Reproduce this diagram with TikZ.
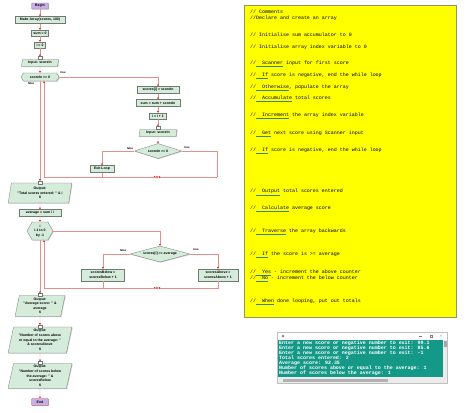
\documentclass[tikz,border=0pt]{standalone}
\usepackage{fontspec}
\usetikzlibrary{arrows.meta,shapes.geometric,shapes.symbols,shadows}
\newfontfamily\fcfont{Liberation Sans}
\newfontfamily\cmtfont{Liberation Mono}
\definecolor{boxfill}{RGB}{214,236,218}
\definecolor{boxline}{RGB}{110,122,114}
\definecolor{linecol}{RGB}{232,140,140}
\definecolor{arrowcol}{RGB}{205,50,50}
\definecolor{termfill}{RGB}{200,176,230}
\definecolor{termline}{RGB}{140,100,170}
\definecolor{endline}{RGB}{200,60,80}
\definecolor{yel}{RGB}{255,255,0}
\definecolor{yelline}{RGB}{150,150,90}
\definecolor{ulcol}{RGB}{60,130,140}
\definecolor{teal2}{RGB}{20,152,136}
\newcommand\ulw[1]{{\color{ulcol}\underline{\textcolor{black}{#1}}}}
\tikzset{
 shd/.style={drop shadow={shadow xshift=0.7bp,shadow yshift=-0.7bp,fill=black!20,opacity=1}},
 ft/.style={font=\fcfont\bfseries\fontsize{3.5}{4.6}\selectfont},
 proc/.style={ft, draw=boxline, fill=boxfill, line width=0.3bp, inner sep=0pt, minimum height=7bp, align=center, shd},
 term/.style={proc, rounded corners=0.8bp, fill=termfill, draw=termline},
 io/.style={ft, trapezium, trapezium left angle=78, trapezium right angle=102, trapezium stretches=true, draw=boxline, fill=boxfill, line width=0.3bp, inner sep=0pt, align=center, shd},
 loopbox/.style={ft, signal, signal to=west and east, signal pointer angle=120, draw=boxline, fill=boxfill, line width=0.3bp, inner sep=0pt, align=center, shd},
 dec/.style={ft, diamond, aspect=3, draw=boxline, fill=boxfill, line width=0.3bp, inner sep=0pt, align=center, shd},
 conn/.style={draw=boxline, fill=white, line width=0.3bp, minimum width=4bp, minimum height=2.8bp, inner sep=0pt},
 flow/.style={draw=linecol, line width=0.45bp, -{Triangle[length=1.8bp,width=2bp,color=arrowcol]}},
 plain/.style={draw=linecol, line width=0.45bp},
 lbl/.style={font=\fcfont\bfseries\fontsize{2.8}{3}\selectfont, inner sep=0pt},
 junc/.style={circle, draw=arrowcol, line width=0.35bp, minimum size=2.2bp, inner sep=0pt},
 cmt/.style={font=\cmtfont\fontsize{5}{5}\selectfont, anchor=west, inner sep=0pt},
}
\begin{document}
\begin{tikzpicture}[x=1bp,y=-1bp]
\path[use as bounding box] (0,0) rectangle (474,412);
% ---------- left column ----------
\node[term, minimum width=17bp, minimum height=6bp] (begin) at (40,6) {Begin};
\node[proc, minimum width=50bp] (make) at (40,20) {Make Array(scores, 100)};
\node[proc, minimum width=17bp, minimum height=6bp] (sum0) at (40,33) {sum = 0};
\node[proc, minimum width=11bp, minimum height=6bp] (i0) at (40,45) {i = 0};
\node[io, minimum width=37bp, minimum height=7bp] (in1) at (40,63) {Input: scoreIn};
\node[conn] (k1) at (40,58) {};
\node[loopbox, minimum width=38bp, minimum height=8bp] (while) at (40,77) {scoreIn >= 0};
% loop body
\node[proc, minimum width=42bp] (si) at (158,90) {scores[i] = scoreIn};
\node[proc, minimum width=44bp] (su) at (158,103) {sum = sum + scoreIn};
\node[proc, minimum width=17bp, minimum height=6bp] (inc) at (158,116) {i = i + 1};
\node[io, minimum width=38bp, minimum height=7bp] (in2) at (158,133) {Input: scoreIn};
\node[conn] (k2) at (158,128) {};
\node[dec, minimum width=47bp, minimum height=15bp] (d1) at (158,151) {scoreIn >= 0};
\node[proc, minimum width=24bp] (exit) at (102,169) {Exit Loop};
\node[junc] (j1) at (157,177) {};
\coordinate (t1) at (217,177);
% after loop
\node[io, minimum width=64bp, minimum height=20bp] (o1) at (40,193) {Output:\\"Total scores entered: " \& i\\\$};
\node[conn] (k3) at (40,182.5) {};
\node[proc, minimum width=42bp] (avg) at (40,213) {average = sum / i};
\node[loopbox, minimum width=26bp, minimum height=18bp] (for) at (40,231) {i\\i-1 to 0\\by -1};
\node[dec, minimum width=60bp, minimum height=16bp] (d2) at (160,254) {scores[i] >= average};
\node[proc, minimum width=43bp, minimum height=12bp] (bl) at (103,275) {scoresBelow =\\scoresBelow + 1};
\node[proc, minimum width=40bp, minimum height=12bp] (ab) at (218,275) {scoresAbove =\\scoresAbove + 1};
\node[junc] (j2) at (157,288) {};
\node[io, minimum width=50bp, minimum height=21bp] (o2) at (40,306) {Output:\\"Average score: " \&\\average\\\$};
\node[conn] (k4) at (40,295) {};
\node[io, minimum width=64bp, minimum height=26bp] (o3) at (40,340) {Output:\\"Number of scores above\\or equal to the average: "\\\& scoresAbove\\\$};
\node[conn] (k5) at (40,326.5) {};
\node[io, minimum width=64bp, minimum height=25bp] (o4) at (40,376) {Output:\\"Number of scores below\\the average: " \&\\scoresBelow\\\$};
\node[conn] (k6) at (40,363) {};
\node[term, draw=endline, minimum width=17bp] (end) at (40,402) {End};
% labels
\node[lbl] (lt1) at (63,73) {true};
\node[lbl] (lf1) at (31,83.5) {false};
\node[lbl] (lf2) at (130,148) {false};
\node[lbl] (lt2) at (187,148) {true};
\node[lbl] (lf3) at (123,250) {false};
\node[lbl] (lt3) at (196,250) {true};
% connectors
\draw[flow] (begin) -- (make);
\draw[flow] (make) -- (sum0);
\draw[flow] (sum0) -- (i0);
\draw[flow] (i0) -- (k1);
\draw[flow] (in1) -- (while);
\draw[flow] (while.east) -| (si.north);
\draw[flow] (si) -- (su);
\draw[flow] (su) -- (inc);
\draw[flow] (inc) -- (k2);
\draw[flow] (in2) -- (d1);
\draw[flow] (d1.west) -| (exit.north);
\draw[flow] (exit.south) |- (j1);
\draw[plain] (d1.east) -| (t1);
\draw[flow] (t1) -- (j1);
\draw[flow] (j1) -| ([xshift=4bp]while.south);
\draw[flow] (while.south) -- (k3);
\draw[flow] (o1) -- (avg);
\draw[flow] (avg) -- (for);
\draw[flow] (for.east) -| (d2.north);
\draw[flow] (d2.west) -| (bl.north);
\draw[flow] (d2.east) -| (ab.north);
\draw[flow] (bl.south) |- (j2);
\draw[flow] (ab.south) |- (j2);
\draw[flow] (j2) -| ([xshift=4bp]for.south);
\draw[flow] (for.south) -- (k4);
\draw[flow] (o2) -- (k5);
\draw[flow] (o3) -- (k6);
\draw[flow] (o4) -- (end);
% ---------- comment panel ----------
\node[draw=yelline, fill=yel, line width=0.8bp, minimum width=212bp, minimum height=312bp, inner sep=0pt, anchor=north west] (ybox) at (244,5) {};
\node[cmt] (c1) at (250,12) {// Comments};
\node[cmt] (c2) at (250,18) {//Declare and create an array};
\node[cmt] (c3) at (250,35) {// Initialise sum accumulator to 0};
\node[cmt] (c4) at (250,47) {// Initialise array index variable to 0};
\node[cmt] (c5) at (250,64) {//\ulw{\ \ Scanner} input for first score};
\node[cmt] (c6) at (250,76) {//\ulw{\ \ If} score is negative, end the while loop};
\node[cmt] (c7) at (250,88) {//\ulw{\ \ Otherwise}, populate the array};
\node[cmt] (c8) at (250,99) {//\ulw{\ \ Accumulate} total scores};
\node[cmt] (c9) at (250,116) {//\ulw{\ \ Increment} the array index variable};
\node[cmt] (c10) at (250,134) {//\ulw{\ \ Get} next score using Scanner input};
\node[cmt] (c11) at (250,151) {//\ulw{\ \ If} score is negative, end the while loop};
\node[cmt] (c12) at (250,192) {//\ulw{\ \ Output} total scores entered};
\node[cmt] (c13) at (250,209) {//\ulw{\ \ Calculate} average score};
\node[cmt] (c14) at (250,232) {//\ulw{\ \ Traverse} the array backwards};
\node[cmt] (c15) at (250,255) {//\ulw{\ \ If} the score is >= average};
\node[cmt] (c16) at (250,273) {//\ulw{\ \ Yes} - increment the above counter};
\node[cmt] (c17) at (250,279) {//\ulw{\ \ No} - increment the below counter};
\node[cmt] (c18) at (250,302) {//\ulw{\ \ When} done looping, put out totals};
% ---------- console window ----------
\node[draw=black!25, fill=white, line width=0.4bp, minimum width=170bp, minimum height=51bp, inner sep=0pt, anchor=north west, drop shadow={shadow xshift=1bp,shadow yshift=-1bp,fill=black!15,opacity=1}] (win) at (277,332) {};
\node[fill=teal2, minimum width=166bp, minimum height=37bp, inner sep=0pt, anchor=north west] (scr) at (277.3,340) {};
\node[fill=black!8, minimum width=4bp, minimum height=37bp, inner sep=0pt, anchor=north west] (vsb) at (443.2,340) {};
\node[fill=black!35, minimum width=3bp, minimum height=6bp, inner sep=0pt, anchor=north west] (vth) at (443.7,341) {};
\node[fill=black!8, minimum width=169.5bp, minimum height=6bp, inner sep=0pt, anchor=north west] (hsb) at (277.3,377) {};
\node[fill=black!30, minimum width=105bp, minimum height=3bp, inner sep=0pt, anchor=north west] (hth) at (283,378.5) {};
\node[circle, fill=black!45, minimum size=3bp, inner sep=0pt] (ico) at (283,336) {};
\node[fill=black!50, minimum width=3bp, minimum height=0.4bp, inner sep=0pt] (bmin) at (420,336.5) {};
\node[draw=black!50, line width=0.3bp, minimum size=2.6bp, inner sep=0pt] (bmax) at (431,336) {};
\node[font=\fcfont\fontsize{4}{4}\selectfont, text=black!50, inner sep=0pt] (bclose) at (441,336) {×};
\node[font=\cmtfont\bfseries\fontsize{5}{5.1}\selectfont, text=white, align=left, anchor=north west, inner sep=0pt] (ctext) at (279,340.6) {Enter a new score or negative number to exit: 99.1\\Enter a new score or negative number to exit: 85.6\\Enter a new score or negative number to exit: -1\\Total scores entered: 2\\Average score: 92.35\\Number of scores above or equal to the average: 1\\Number of scores below the average: 1};
\end{tikzpicture}
\end{document}
